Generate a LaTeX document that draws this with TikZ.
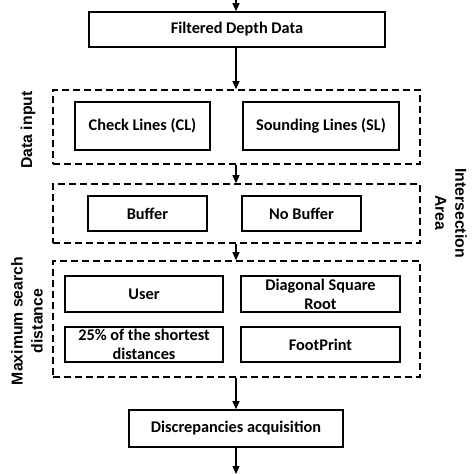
\documentclass[tikz,border=0pt]{standalone}
\usepackage{fontspec}
\setmainfont{Carlito}
\newfontfamily\arialfont{Liberation Sans}
\usetikzlibrary{arrows.meta}
\tikzset{
  procbox/.style={draw, line width=1.6pt, inner sep=0pt, align=center,
    font=\fontsize{16.3}{19}\selectfont\bfseries},
  groupbox/.style={draw, dash pattern=on 7pt off 4pt, line width=1.6pt, inner sep=0pt,
    minimum width=367pt},
  sidelabel/.style={inner sep=0pt, align=center, font=\arialfont\fontsize{15.8}{20}\selectfont\bfseries},
  flow/.style={line width=1.3pt, -{Triangle[width=7pt,length=8pt]}}
}
\begin{document}
\begin{tikzpicture}[x=1pt,y=-1pt]
\useasboundingbox (0,0) rectangle (474,474);
\node[procbox, minimum width=296pt, minimum height=35pt] (fdd) at (237,29.5) {Filtered Depth Data};
\node[groupbox, minimum height=74pt] (g1) at (236.5,127) {};
\node[procbox, minimum width=135pt, minimum height=48pt] (cl) at (142.5,126) {Check Lines (CL)};
\node[procbox, minimum width=156pt, minimum height=48pt] (sl) at (321,126) {Sounding Lines (SL)};
\node[groupbox, minimum height=59pt] (g2) at (236.5,213.5) {};
\node[procbox, minimum width=119pt, minimum height=35pt] (buf) at (147.5,213.5) {Buffer};
\node[procbox, minimum width=119pt, minimum height=35pt] (nobuf) at (301.5,213.5) {No Buffer};
\node[groupbox, minimum height=116pt] (g3) at (236.5,319) {};
\node[procbox, minimum width=158pt, minimum height=36pt] (user) at (144,294) {User};
\node[procbox, minimum width=159pt, minimum height=36pt] (dsr) at (320.5,294) {Diagonal Square\\Root};
\node[procbox, minimum width=158pt, minimum height=35pt] (pct) at (144,344.5) {25\% of the shortest\\distances};
\node[procbox, minimum width=159pt, minimum height=35pt] (fp) at (320.5,344.5) {FootPrint};
\node[procbox, minimum width=214pt, minimum height=37pt] (disc) at (236,428.5) {Discrepancies acquisition};
\node[sidelabel, rotate=90] (lab1) at (28,130) {Data input};
\node[sidelabel, rotate=-90] (lab2) at (451,213) {Intersection\\Area};
\node[sidelabel, rotate=90] (lab3) at (27,321) {Maximum search\\distance};
\coordinate (top) at (236,0);
\coordinate (bot) at (236,474);
\draw[flow] (top) -- (fdd.north -| top);
\draw[flow] (fdd.south -| top) -- (g1.north -| top);
\draw[flow] (g1.south -| top) -- (g2.north -| top);
\draw[flow] (g2.south -| top) -- (g3.north -| top);
\draw[flow] (g3.south -| top) -- (disc.north -| top);
\draw[flow] (disc.south -| top) -- (bot);
\end{tikzpicture}
\end{document}
